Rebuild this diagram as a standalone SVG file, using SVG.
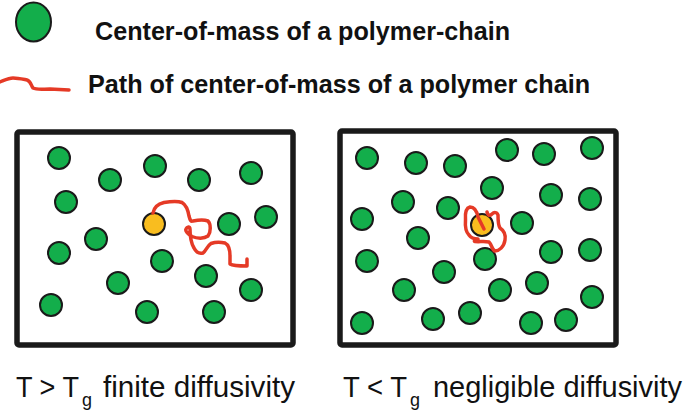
<svg xmlns="http://www.w3.org/2000/svg" width="685" height="414" viewBox="0 0 685 414">
<style>
.g{fill:#13ae4b;stroke:#1a1a1a;stroke-width:2}
.y{fill:#f9bd1f;stroke:#1a1a1a;stroke-width:2}
.box{fill:#fff;stroke:#1a1a1a;stroke-width:5.5;stroke-linejoin:round}
.path{fill:none;stroke:#e53a26;stroke-width:3.5;stroke-linecap:round;stroke-linejoin:round}
.lb{font-family:"Liberation Sans",Arial,sans-serif;font-weight:bold;font-size:25px;fill:#111}
.cap{font-family:"Liberation Sans",Arial,sans-serif;font-size:29px;fill:#111}
.sub{font-family:"Liberation Sans",Arial,sans-serif;font-size:18px;fill:#111}
</style>
<rect width="685" height="414" fill="#fff"/>
<g id="legend">
<ellipse class="g" cx="33.5" cy="22" rx="17.5" ry="19.5"/>
<text class="lb" x="95" y="40" textLength="415" lengthAdjust="spacingAndGlyphs">Center-of-mass of a polymer-chain</text>
<path class="path" d="M0,82 C5,80 9,78 13,78 C18,78 22,79 27,80 C31,81 31,86 33,88 C37,90 43,89 50,89 L69,90" stroke-width="4"/>
<text class="lb" x="88" y="93" textLength="502" lengthAdjust="spacingAndGlyphs">Path of center-of-mass of a polymer chain</text>
</g>
<g id="panel-left">
<rect class="box" x="17" y="132" width="276" height="213" rx="2"/>
<circle class="g" cx="59" cy="158" r="11"/>
<circle class="g" cx="110" cy="180" r="11"/>
<circle class="g" cx="155" cy="166" r="11"/>
<circle class="g" cx="199" cy="180" r="11"/>
<circle class="g" cx="251" cy="173" r="11"/>
<circle class="g" cx="66" cy="202" r="11"/>
<circle class="g" cx="229" cy="224" r="11"/>
<circle class="g" cx="266" cy="217" r="11"/>
<circle class="g" cx="96" cy="239" r="11"/>
<circle class="g" cx="59" cy="253" r="11"/>
<circle class="g" cx="162" cy="261" r="11"/>
<circle class="g" cx="206" cy="276" r="11"/>
<circle class="g" cx="118" cy="283" r="11"/>
<circle class="g" cx="251" cy="290" r="11"/>
<circle class="g" cx="51" cy="305" r="11"/>
<circle class="g" cx="147" cy="312" r="11"/>
<circle class="g" cx="214" cy="312" r="11"/>
<circle class="y" cx="154" cy="224" r="11"/>
<path class="path" d="M153,213 C154,207 158,204 164,202.5 C170,201.5 178,201 182,202.5 C186,205 188,210 189,216 C190,220 191,222 193,221 C198,220 204,219.5 208,221 C211,224 211,232 208,236 C204,239 197,238.5 192,236.5 C188,234 185,231 186,229 C187,226.5 190,226 190,229 C190,236 191,243 194,248 C196,252 199,254 203,253 C206,251 207,246 211,243.5 C215,242 221,242 225,243 C229,245 230,250 230,256 L230,264 C233,266 240,266 247,266 L247,259"/>
</g>
<g id="panel-right">
<rect class="box" x="340" y="131" width="276" height="214" rx="2"/>
<circle class="g" cx="367" cy="158" r="11"/>
<circle class="g" cx="416" cy="163" r="11"/>
<circle class="g" cx="455" cy="166" r="11"/>
<circle class="g" cx="507" cy="150" r="11"/>
<circle class="g" cx="544" cy="154" r="11"/>
<circle class="g" cx="592" cy="148" r="11"/>
<circle class="g" cx="492" cy="188" r="11"/>
<circle class="g" cx="551" cy="195" r="11"/>
<circle class="g" cx="590" cy="199" r="11"/>
<circle class="g" cx="403" cy="202" r="11"/>
<circle class="g" cx="448" cy="208" r="11"/>
<circle class="g" cx="362" cy="219" r="11"/>
<circle class="g" cx="522" cy="223" r="11"/>
<circle class="g" cx="418" cy="238" r="11"/>
<circle class="g" cx="367" cy="261" r="11"/>
<circle class="g" cx="485" cy="259" r="11"/>
<circle class="g" cx="551" cy="252" r="11"/>
<circle class="g" cx="590" cy="250" r="11"/>
<circle class="g" cx="444" cy="272" r="11"/>
<circle class="g" cx="404" cy="290" r="11"/>
<circle class="g" cx="500" cy="290" r="11"/>
<circle class="g" cx="537" cy="283" r="11"/>
<circle class="g" cx="592" cy="297" r="11"/>
<circle class="g" cx="362" cy="323" r="11"/>
<circle class="g" cx="433" cy="319" r="11"/>
<circle class="g" cx="470" cy="313" r="11"/>
<circle class="g" cx="531" cy="323" r="11"/>
<circle class="g" cx="566" cy="320" r="11"/>
<circle class="y" cx="482" cy="225" r="11"/>
<path class="path" d="M484,229 L478,217 C477,212 475,207 470,207 C466,208 465,214 465.5,220 C465,226 466,232 469,235 C471,238 475,239 478,239 C476,240 473,241 475,241.5 C479,242 485,241 489,242 C492,245 492,250 495,251 C499,251 504,247 505,240 C506,234 503,230 500,228 C498,225 498,220 498,215 C497,212 494,212 492,214 C490,216 488,216 487,212"/>
</g>
<g id="captions">
<text class="cap" x="16" y="397" textLength="63" lengthAdjust="spacingAndGlyphs">T &gt; T</text>
<text class="sub" x="82" y="406">g</text>
<text class="cap" x="103" y="397" textLength="192" lengthAdjust="spacingAndGlyphs">finite diffusivity</text>
<text class="cap" x="343" y="397" textLength="64" lengthAdjust="spacingAndGlyphs">T &lt; T</text>
<text class="sub" x="410" y="406">g</text>
<text class="cap" x="433" y="397" textLength="249" lengthAdjust="spacingAndGlyphs">negligible diffusivity</text>
</g>
</svg>
